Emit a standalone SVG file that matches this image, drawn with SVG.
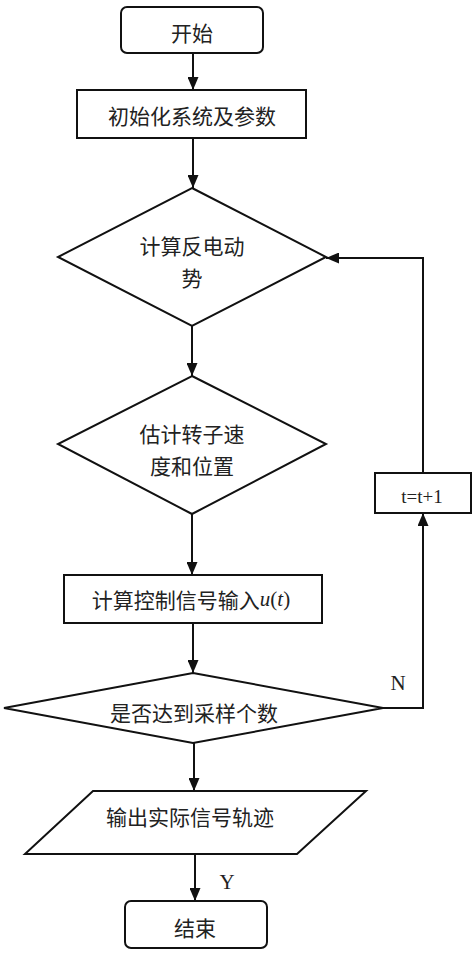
<svg xmlns="http://www.w3.org/2000/svg" width="474" height="953" viewBox="0 0 474 953">
<style>
.s{fill:#fff;stroke:#111;stroke-width:2}
.t{font-family:"Noto Sans CJK SC","Liberation Sans",sans-serif;font-size:21px;fill:#222;text-anchor:middle;dominant-baseline:central}
.l{font-family:"Liberation Serif",serif;font-size:21px;fill:#222;text-anchor:middle;dominant-baseline:central}
.c{fill:none;stroke:#111;stroke-width:2}
</style>
<defs>
<marker id="a" markerUnits="userSpaceOnUse" markerWidth="13" markerHeight="11" refX="13" refY="5.5" orient="auto">
<path d="M0,0 L13,5.5 L0,11 z" fill="#111"/>
</marker>
</defs>
<rect width="474" height="953" fill="#fff"/>
<g id="connectors">
<line class="c" x1="193" y1="53" x2="193" y2="90" marker-end="url(#a)"/>
<line class="c" x1="193" y1="138" x2="193" y2="188" marker-end="url(#a)"/>
<line class="c" x1="192" y1="326" x2="192" y2="376" marker-end="url(#a)"/>
<line class="c" x1="192" y1="514" x2="192" y2="575" marker-end="url(#a)"/>
<line class="c" x1="193" y1="623" x2="193" y2="673" marker-end="url(#a)"/>
<line class="c" x1="194" y1="743" x2="194" y2="791" marker-end="url(#a)"/>
<line class="c" x1="195" y1="854" x2="195" y2="901" marker-end="url(#a)"/>
<polyline class="c" points="383,708 423,708 423,513" marker-end="url(#a)"/>
<polyline class="c" points="423,473 423,258 326,258" marker-end="url(#a)"/>
<text class="l" x="398" y="683">N</text>
<text class="l" x="227" y="882">Y</text>
</g>
<g id="start">
<rect class="s" x="121" y="7" width="142" height="46" rx="6"/>
<text class="t" x="192" y="32">开始</text>
</g>
<g id="init">
<rect class="s" x="77" y="90" width="229" height="48"/>
<text class="t" x="192" y="115">初始化系统及参数</text>
</g>
<g id="emf">
<polygon class="s" points="192,188 326,257 192,326 58,257"/>
<text class="t" x="192" y="245">计算反电动</text>
<text class="t" x="192" y="277">势</text>
</g>
<g id="estimate">
<polygon class="s" points="192,376 326,444 192,514 58,444"/>
<text class="t" x="192" y="433">估计转子速</text>
<text class="t" x="192" y="465">度和位置</text>
</g>
<g id="control">
<rect class="s" x="64" y="575" width="258" height="48"/>
<text class="t" x="191" y="599">计算控制信号输入<tspan font-family="Liberation Serif,serif" font-style="italic">u</tspan><tspan font-family="Liberation Serif,serif">(</tspan><tspan font-family="Liberation Serif,serif" font-style="italic">t</tspan><tspan font-family="Liberation Serif,serif">)</tspan></text>
</g>
<g id="check">
<polygon class="s" points="193,673 383,708 193,743 4,708"/>
<text class="t" x="194" y="712">是否达到采样个数</text>
</g>
<g id="increment">
<rect class="s" x="375" y="473" width="96" height="40"/>
<text class="l" x="422" y="496" style="font-size:19px">t=t+1</text>
</g>
<g id="output">
<polygon class="s" points="93,791 366,791 297,854 25,854"/>
<text class="t" x="190" y="816">输出实际信号轨迹</text>
</g>
<g id="end">
<rect class="s" x="125" y="901" width="142" height="47" rx="6"/>
<text class="t" x="195" y="927">结束</text>
</g>
</svg>
